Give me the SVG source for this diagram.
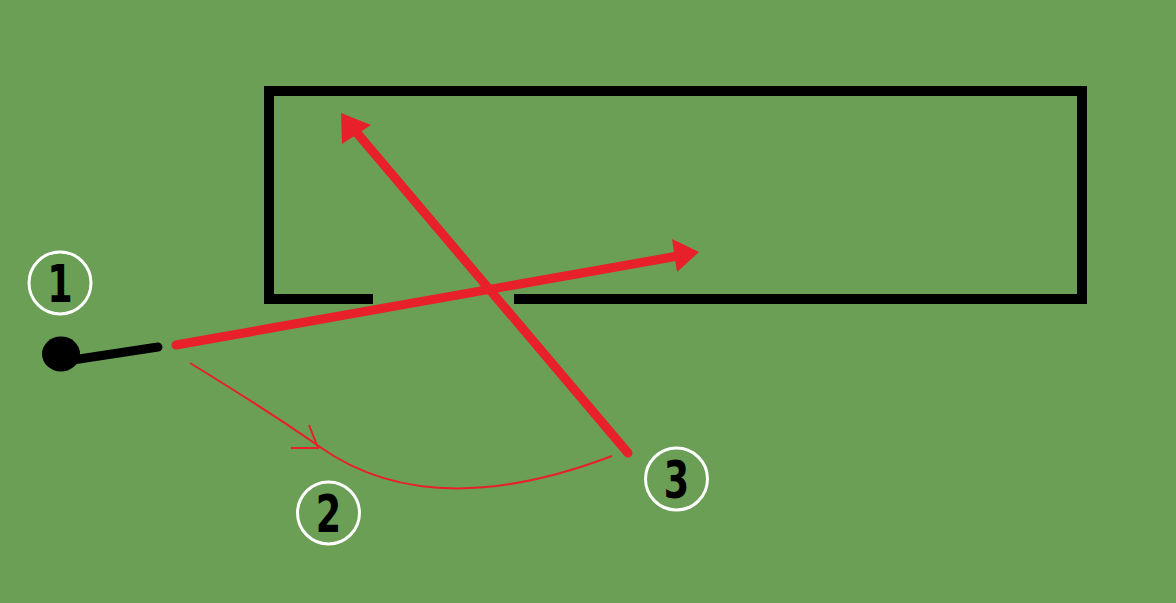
<svg xmlns="http://www.w3.org/2000/svg" width="1176" height="603" viewBox="0 0 1176 603">
<style>
.wall{fill:none;stroke:#000;stroke-width:10;stroke-linecap:butt;stroke-linejoin:miter}
.red{stroke:#e8202a;fill:none}
.badge{fill:none;stroke:#fff;stroke-width:3}
.num{font-family:"DejaVu Sans Condensed","Liberation Sans",sans-serif;font-weight:bold;font-size:52px;fill:#000;text-anchor:middle}
</style>
<rect width="1176" height="603" fill="#6a9f55"/>
<g id="box">
<path class="wall" d="M373,299 H269 V91 H1082 V299 H514"/>
</g>
<g id="player1">
<ellipse cx="61" cy="354" rx="19" ry="17.5" fill="#000"/>
<line x1="66" y1="361" x2="158" y2="347" stroke="#000" stroke-width="9" stroke-linecap="round"/>
</g>
<g id="connectors">
<line class="red" x1="176" y1="345" x2="678" y2="256" stroke-width="9" stroke-linecap="round"/>
<polygon points="699,252 672,239 677,272" fill="#e8202a"/>
<line class="red" x1="628" y1="453" x2="357" y2="133" stroke-width="9" stroke-linecap="round"/>
<polygon points="341,113 371,125 342,144" fill="#e8202a"/>
<path class="red" d="M190,363 Q270,412 320,447 Q430,525 612,456" stroke-width="2"/>
<polyline class="red" points="309,425 318,448 291,448" stroke-width="2"/>
</g>
<g id="label1"><circle class="badge" cx="60" cy="283" r="31"/><text class="num" transform="translate(60 302) scale(0.78 1)">1</text></g>
<g id="label2"><circle class="badge" cx="328.5" cy="513" r="31"/><text class="num" transform="translate(328.5 532) scale(0.78 1)">2</text></g>
<g id="label3"><circle class="badge" cx="676.5" cy="479" r="31"/><text class="num" transform="translate(676.5 498) scale(0.78 1)">3</text></g>
</svg>
